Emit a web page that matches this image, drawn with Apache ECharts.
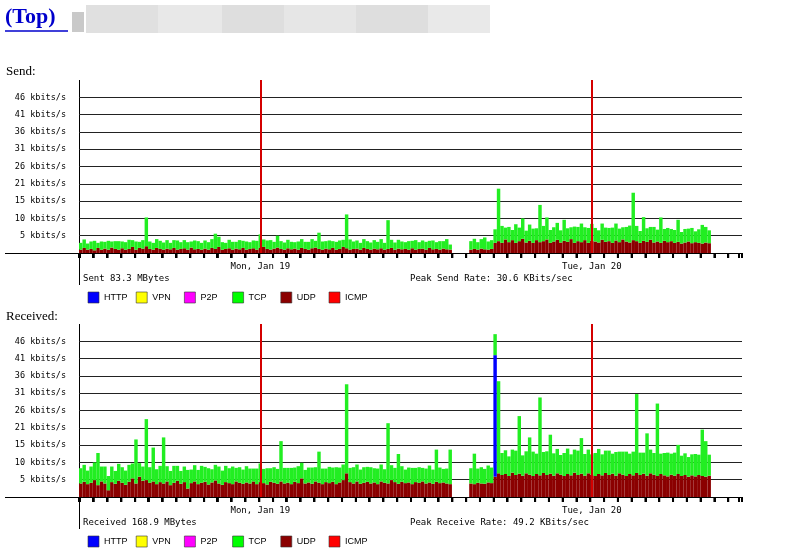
<!DOCTYPE html>
<html><head><meta charset="utf-8">
<script src="https://cdn.jsdelivr.net/npm/echarts@6/dist/echarts.min.js"></script>
<style>html,body{margin:0;padding:0;background:#fff}#c{width:800px;height:558px}</style>
</head><body><div id="c"></div>
<script>
const N = 192;
const yTicks = ['', '5', '10', '15', '21', '26', '31', '36', '41', '46', ''];
const dayLabels = {52: 'Mon, Jan 19', 148: 'Tue, Jan 20'};
const dayLines = [52, 148];
const legendNames = ['HTTP', 'VPN', 'P2P', 'TCP', 'UDP', 'ICMP'];
const legendColors = ['#0000ff', '#ffff00', '#ff00ff', '#00ff00', '#8b0000', '#ff0000'];

const sendUdp = [
1,1.5,1,1.2,0.8,1.5,1,1.3,1,1.6,1.2,1,
1.4,1,1.2,1.8,1,1.5,1.3,2,1.2,1,1.5,1.2,
1,1.3,1.1,1.5,1,1.2,1.4,1,1.6,1.1,1.2,1,
1.3,1,1.5,1.2,1.8,1,1.2,1.4,1,1.3,1.1,1.5,
1,1.2,1.4,1,1.5,1.8,1.2,1,1.3,1.6,1.2,1,
1.4,1.1,1.3,1,1.5,1.2,1,1.4,1.6,1.2,1,1.3,
1.1,1.5,1,1.2,1.8,1.4,1,1.2,1.3,1,1.5,1.2,
1,1.3,1.1,1.4,1,1.2,1.5,1,1.3,1.1,1.2,1,
1.4,1,1.2,1.3,1,1.5,1.1,1.2,1,1.3,1.1,1,
null,null,null,null,null,
1,1.2,1,1.3,1.1,1,1.2,
3,3.5,3,4,3.2,3.8,3,3.5,4.2,3.1,3.6,3,
3.8,3.2,3.5,4,3,3.4,3.9,3.1,3.6,3.3,4.1,3,
3.5,3.2,3.8,3,3.6,3.4,3.1,3.9,3.3,3.5,3,3.7,
3.2,4,3.4,3.1,3.8,3.5,3,3.6,3.3,3.9,3.1,3.4,
3,3.6,3.2,3.5,3,3.3,2.8,3.1,3.4,2.9,3.2,3,2.8,3.1,2.9];
const sendTcp = [
2,2.5,1.8,2.2,2.8,1.5,2.4,2,2.6,1.8,2.3,2.5,
2,2.2,2.7,2,2.4,1.8,2.5,8.5,2.2,2,2.6,2.4,
2.1,2.5,1.9,2.3,2.7,2,2.4,2.2,1.8,2.6,2.3,2,
2.4,2.2,2.6,4.5,3,2.2,1.8,2.5,2.3,2,2.7,2.1,
2.4,2,2.3,2.6,4,2.2,2.5,2.8,2,3.5,2.3,2.1,
2.5,2.2,1.9,2.4,2.6,2.1,2.3,2.7,2,4.8,2.4,2.2,
2.6,2,2.3,2.5,2.1,10,3,2.2,2.4,2,2.6,2.3,
2.1,2.5,2.2,2.7,2,8.5,2.4,2.1,2.6,2.3,2,2.5,
2.2,2.8,2,2.4,2.3,2.1,2.6,2,2.5,2.2,3,1.5,
null,null,null,null,null,
2.5,3,2.2,2.8,3.5,2.4,2.6,
4,15.5,5,3.5,4.5,3,5.5,4,6,3.5,4.8,4.2,
3.5,11,4.5,6.5,3.8,4.2,5,3.6,6.2,4,3.5,4.8,
4.2,5.5,3.8,4.4,5,4,3.6,4.8,4.2,3.9,4.5,5,
4,3.6,4.3,5,14,4.5,3.5,7,4,3.8,4.6,3.5,
7.5,3.5,4.2,3.6,3.8,6.5,3.4,4,3.8,4.5,3.2,4,5.5,4.6,3.8];
const recvUdp = [
4,4.5,3.8,4.2,5,3.5,4.6,4,2,4.4,3.9,4.8,
4.2,3.6,4.5,5.5,4,6,4.8,5,4.2,4.6,3.8,4.4,
4,4.6,3.5,4.2,4.8,3.9,4.4,2.5,4.1,4.6,3.8,4.2,
4.5,3.7,4.3,4.9,4,3.6,4.4,4.1,3.8,4.6,4.2,3.9,
4.3,4,4.6,3.8,4.4,4.1,3.7,4.5,4.2,3.9,4.6,4,
4.2,3.8,4.5,4.1,5.5,4,4.3,3.9,4.6,4.2,3.8,4.4,
4.1,4.5,3.8,4.3,5,7,4.4,4,4.6,3.9,4.2,4.5,
4,4.3,3.8,4.6,4.2,4,5,4.4,3.9,4.5,4.1,4.3,
3.8,4.4,4.2,4.6,4,4.3,3.9,4.5,4.1,4.3,4,3.8,
null,null,null,null,null,
4,3.8,4.2,4,3.9,4.3,4.1,
6,7,6.5,6.8,6.2,7.2,6.5,6.9,6.3,7,6.6,6.2,
6.8,6.4,7.1,6.5,6.9,6.3,7,6.6,6.2,6.8,6.4,7.2,
6.5,6.9,6.3,7,6.6,6.2,6.8,6.4,7.1,6.5,6.9,6.3,
7,6.6,6.2,6.8,6.4,7.1,6.5,6.9,6.3,7,6.6,6.2,
6.8,6.4,6.1,6.6,6.3,6.8,6.2,6.5,6,6.4,6.1,6.5,6.2,6,6.3];
const recvTcp = [
4.5,5,4,4.8,5.2,9.5,4.4,5,4.2,4.6,3.8,5,
4.6,4.2,5,4.4,13,4,4.2,18,4.6,10,4.4,4.8,
13.6,4.5,4.2,5,4.4,3.8,4.6,5.5,4,4.8,4.2,5,
4.4,4.8,3.9,4.6,5,4.2,4.8,4.4,5.2,4,4.6,4.2,
4.8,4.4,3.8,4.6,5.5,4.2,4.8,4,4.6,4.4,11.9,4.6,
4.4,4.8,4.2,5,4.6,4,4.4,4.8,4.2,9.2,4.6,4,
4.8,4.2,5,4.4,4.6,26.3,4.2,4.8,5,4.2,4.6,4.4,
4.8,4.2,4.6,5,4,17.8,4.4,4.2,8.8,4.6,4,4.4,
4.8,4.2,4.6,4,4.4,5,4.2,9.5,4.6,4,4.4,10.2,
null,null,null,null,null,
4.5,9,4.2,4.8,4.4,5,4.6,
6.2,27.2,6.5,7,5.8,6.8,7.2,17,6,6.5,11,7.2,
6,23,6.2,7,11.5,6.6,7.2,5.8,6.8,7.5,6.2,6.8,
7.2,10.5,6.4,7,6,6.8,7.4,6.2,6.6,7.2,5.9,7,
6.4,6.8,7.2,6,7,23.3,6.6,6.2,12.5,7,6.4,21.4,
6,6.6,7,6.2,6.8,8.6,6,6.4,5.8,6.2,6.6,6,13.7,10.5,6.2];
const recvHttp = [[120, 35.9]];
const sendTexts = ['Sent 83.3 MBytes', 'Peak Send Rate: 30.6 KBits/sec'];
const recvTexts = ['Received 168.9 MBytes', 'Peak Receive Rate: 49.2 KBits/sec'];

const cats = [];
for (let i = 0; i < N; i++) cats.push(String(i));
const mono = 'DejaVu Sans Mono';
const baselines = [253, 497];
const tops = [80, 324];

function xAx(gi) {
  return {type: 'category', gridIndex: gi, data: cats, boundaryGap: true,
    axisLine: {show: true, lineStyle: {color: '#000', width: 1}},
    axisTick: {show: true, interval: 3, length: 5, lineStyle: {color: '#000', width: 2}},
    axisLabel: {show: true, interval: 0, margin: 9, fontFamily: mono, fontSize: 9, color: '#000',
      formatter: (v, i) => dayLabels[i] || ''}};
}
function yAx(gi) {
  return {type: 'value', gridIndex: gi, min: 0, max: 51.1, interval: 5.11,
    axisLine: {show: false}, axisTick: {show: false},
    axisLabel: {margin: 13, fontFamily: mono, fontSize: 8.5, color: '#000',
      formatter: (v, i) => yTicks[i] ? yTicks[i] + ' kbits/s' : ''},
    splitLine: {lineStyle: {width: 1.2, color: ['#000','#222','#222','#222','#222','#222','#222','#222','#222','#222','rgba(0,0,0,0)']}}};
}
function bar(name, data, gi, color, withLine) {
  const s = {name, type: 'bar', xAxisIndex: gi, yAxisIndex: gi, stack: 's' + gi, data,
    barCategoryGap: '0%', itemStyle: {color}, silent: true, animation: false, z: 1};
  if (withLine) s.markLine = {symbol: 'none', silent: true, label: {show: false},
    lineStyle: {color: '#d40000', width: 2, type: 'solid'},
    data: dayLines.map(d => ({xAxis: d}))};
  return s;
}
const graphic = [];
function text(x, y, t, font, color) {
  graphic.push({type: 'text', left: x, top: y, style: {text: t, font, fill: color || '#000'}});
}
function line(x1, y1, x2, y2, w, c) {
  graphic.push({type: 'line', shape: {x1, y1, x2, y2}, style: {stroke: c || '#000', lineWidth: w || 1}});
}
text(5, 6, '(Top)', 'bold 22px "Liberation Serif"', '#0000cc');
line(5, 31, 68, 31, 1.5, '#0000cc');
const blur = [[72,12,12,'#c9c9c9',20],[86,5,72,'#e0e0e0',28],[158,5,64,'#e8e8e8',28],[222,5,62,'#dedede',28],[284,5,72,'#e6e6e6',28],[356,5,72,'#dedede',28],[428,5,62,'#e9e9e9',28]];
blur.forEach(b => graphic.push({type: 'rect', shape: {x: b[0], y: b[1], width: b[2], height: b[4]}, style: {fill: b[3]}}));
text(6, 65, 'Send:', '13px "Liberation Serif"');
text(6, 310, 'Received:', '13px "Liberation Serif"');
[0, 1].forEach(gi => {
  const b = baselines[gi];
  line(5, b + 0.5, 742, b + 0.5, 1.2);
  for (let k = 0; k <= 47; k++) {
    const x = 80 + k * 662 / 48;
    line(x, b, x, b + 5, 2);
  }
  line(79.5, tops[gi], 79.5, b + 32, 1);
  const tx = gi ? recvTexts : sendTexts;
  text(83, b + 21, tx[0], '9px "' + mono + '"');
  text(410, b + 21, tx[1], '9px "' + mono + '"');
  legendNames.forEach((n, i) => {
    const x = 88 + i * 48.2, y = b + 39;
    graphic.push({type: 'rect', shape: {x, y, width: 11, height: 11}, style: {fill: legendColors[i], stroke: '#333', lineWidth: 0.6}});
    text(x + 16, y + 1, n, '9px "Liberation Sans"');
  });
});

const chart = echarts.init(document.getElementById('c'), null, {renderer: 'canvas'});
chart.setOption({
  animation: false,
  grid: [
    {left: 79, right: 58, top: 80, height: 173},
    {left: 79, right: 58, top: 324, height: 173}
  ],
  xAxis: [xAx(0), xAx(1)],
  yAxis: [yAx(0), yAx(1)],
  series: [
    bar('UDP', sendUdp, 0, '#8b0000', true),
    bar('TCP', sendTcp, 0, '#22ee22', false),
    bar('UDP', recvUdp, 1, '#8b0000', true),
    bar('HTTP', recvHttp, 1, '#0000ff', false),
    bar('TCP', recvTcp, 1, '#22ee22', false)
  ],
  graphic
});
</script></body></html>
